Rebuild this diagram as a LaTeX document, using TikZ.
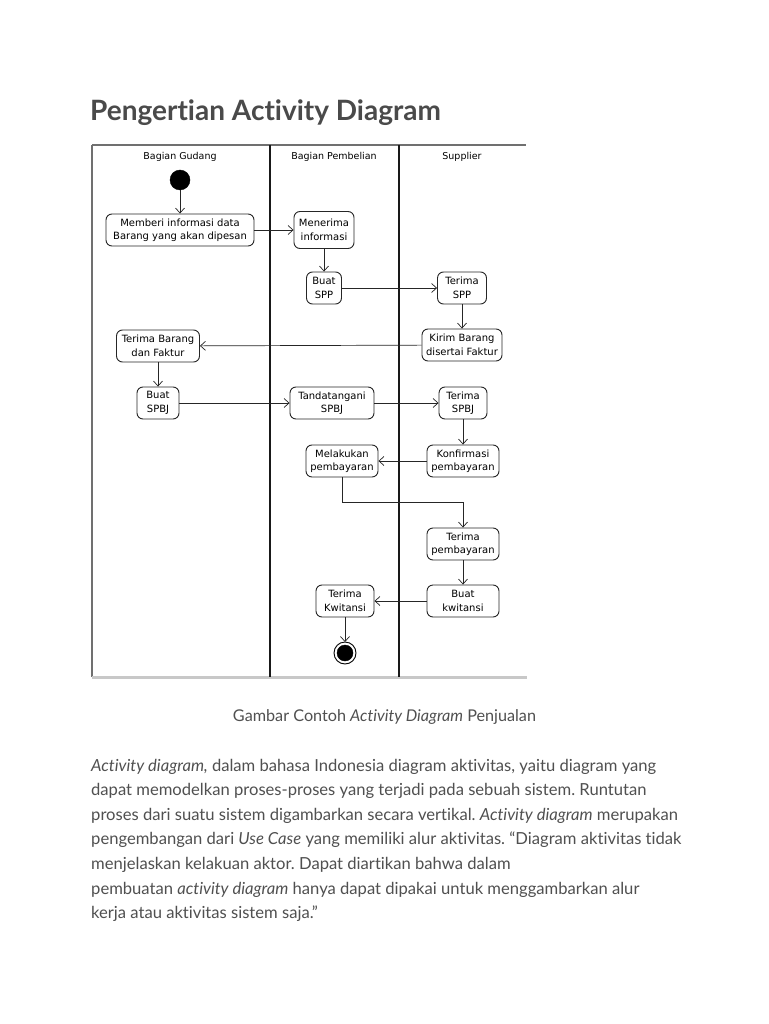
\documentclass[tikz,border=0pt]{standalone}
\usepackage{fontspec}
\setmainfont{Lato}[Ligatures=NoCommon]
\newfontfamily\umlfont{DejaVu Sans}
\usepackage{xcolor}
\usepackage{tikz}
\usetikzlibrary{arrows.meta,positioning,calc}
\frenchspacing

\definecolor{textgray}{HTML}{505050}
\definecolor{titlegray}{HTML}{4A4A4A}
\definecolor{framegray}{HTML}{707070}
\definecolor{rulegray}{HTML}{C8C8C8}

\begin{document}
\begin{tikzpicture}[x=1pt,y=-1pt,>={Straight Barb[length=5pt,width=9pt]},
    act/.style={draw=black!85, line width=0.9pt, rounded corners=6pt, align=center,
        font=\umlfont\fontsize{10}{13.5}\selectfont, inner xsep=3pt, inner ysep=2pt,
        minimum height=32pt},
    flow/.style={->, line width=0.7pt, draw=black!85},
    lane/.style={line width=1.4pt, black!90},
    header/.style={font=\umlfont\fontsize{9.5}{11}\selectfont, inner sep=0pt},
    body/.style={anchor=base west, inner sep=0pt, text=textgray, font=\fontsize{16.6}{20}\selectfont}]

    \useasboundingbox[fill=white] (0,0) rectangle (768,1024);

    % title and caption
    \node[anchor=base west, inner sep=0pt, text=titlegray, font=\bfseries\fontsize{28}{32}\selectfont]
        (title) at (90,121) {Pengertian Activity Diagram};
    \node[anchor=base, inner sep=0pt, text=textgray, font=\fontsize{16.2}{20}\selectfont]
        (caption) at (384.5,721) {Gambar Contoh \textit{Activity Diagram} Penjualan};

    % frame of the picture
    \draw [framegray, line width=1.5pt] (92,145) -- (526,145);
    \draw [framegray, line width=1.5pt] (92,145) -- (92,677);
    \draw [rulegray, line width=3pt] (92,677) -- (527,677);
    \foreach \x in {270,399}{
        \draw[lane] (\x,145) -- (\x,677);
    }

    % lanes
    \node[header] (gudang) at (180,157) {Bagian Gudang};
    \node[header] (pembelian) at (334,157) {Bagian Pembelian};
    \node[header] (supplier) at (462,157) {Supplier};

    % activities
    \filldraw[fill=black,draw=black] (180,180) circle (10pt);
    \coordinate (start) at (180,190);
    \node[act, minimum width=148pt] (memberi) at (180,230) {Memberi informasi data\\Barang yang akan dipesan};
    \node[act, minimum width=60pt, minimum height=37pt] (menerima) at (324,230) {Menerima\\informasi};
    \node[act, minimum width=35pt] (buatspp) at (324,288) {Buat\\SPP};
    \node[act, minimum width=49pt] (terimaspp) at (462,288) {Terima\\SPP};
    \node[act, minimum width=80pt] (kirim) at (462,345) {Kirim Barang\\disertai Faktur};
    \node[act, minimum width=83pt] (terimabrg) at (158,346) {Terima Barang\\dan Faktur};
    \node[act, minimum width=42pt] (buatspbj) at (158,403) {Buat\\SPBJ};
    \node[act, minimum width=84pt] (ttdspbj) at (332,403) {Tandatangani\\SPBJ};
    \node[act, minimum width=48pt] (terimaspbj) at (463,403) {Terima\\SPBJ};
    \node[act, minimum width=72pt] (konfirmasi) at (463,461) {Konfirmasi\\pembayaran};
    \node[act, minimum width=72pt] (bayar) at (342,461) {Melakukan\\pembayaran};
    \node[act, minimum width=72pt] (terimabayar) at (463,544) {Terima\\pembayaran};
    \node[act, minimum width=72pt] (kwitansi) at (463,601) {Buat\\kwitansi};
    \node[act, minimum width=58pt] (terimakw) at (345,601) {Terima\\Kwitansi};

    \draw[black, line width=0.9pt] (345,653) circle (11pt);
    \filldraw[fill=black,draw=black] (345,653) circle (8pt);
    \coordinate (stop) at (345,642);

    % flows
    \draw[flow] (start) -- (memberi);
    \draw[flow] (memberi) -- (menerima);
    \draw[flow] (menerima) -- (buatspp);
    \draw[flow] (buatspp) -- (terimaspp);
    \draw[flow] (terimaspp) -- (kirim);
    \draw[flow] (kirim) -- (terimabrg);
    \draw[flow] (terimabrg) -- (buatspbj);
    \draw[flow] (buatspbj) -- (ttdspbj);
    \draw[flow] (ttdspbj) -- (terimaspbj);
    \draw[flow] (terimaspbj) -- (konfirmasi);
    \draw[flow] (konfirmasi) -- (bayar);
    \coordinate (turn) at (342,502);
    \draw[flow] (bayar) -- (turn) -| (terimabayar);
    \draw[flow] (terimabayar) -- (kwitansi);
    \draw[flow] (kwitansi) -- (terimakw);
    \draw[flow] (terimakw) -- (stop);

    % text below
    \foreach \t [count=\i] in {
        {\textit{Activity diagram,} dalam bahasa Indonesia diagram aktivitas, yaitu diagram yang},
        {dapat memodelkan proses-proses yang terjadi pada sebuah sistem. Runtutan},
        {proses dari suatu sistem digambarkan secara vertikal. \textit{Activity diagram} merupakan},
        {pengembangan dari \textit{Use Case} yang memiliki alur aktivitas. “Diagram aktivitas tidak},
        {menjelaskan kelakuan aktor. Dapat diartikan bahwa dalam},
        {pembuatan \textit{activity diagram} hanya dapat dipakai untuk menggambarkan alur},
        {kerja atau aktivitas sistem saja.”}}{
        \node[body] (line\i) at (91,{771+(\i-1)*24.6}) {\t};
    }

\end{tikzpicture}
\end{document}
